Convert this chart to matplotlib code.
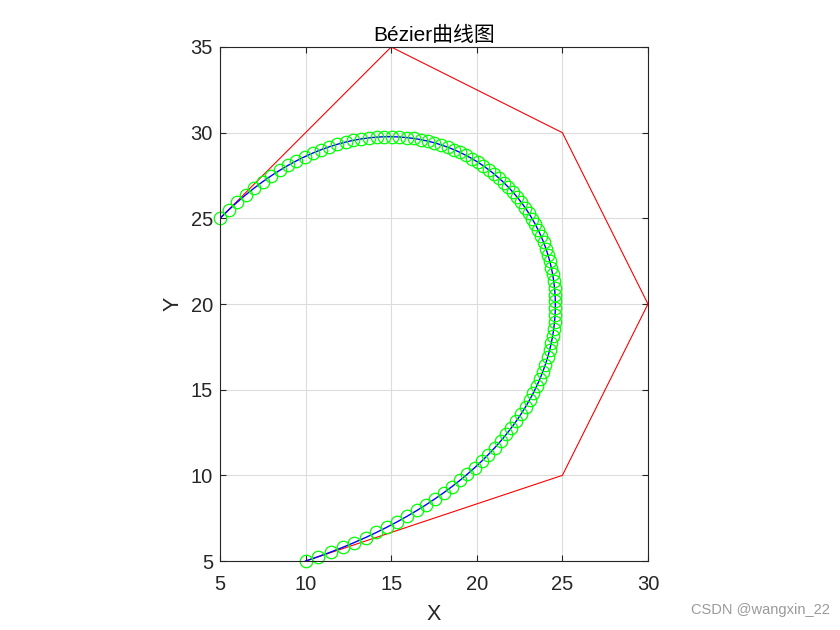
import numpy as np
import matplotlib.pyplot as plt
from math import comb

# control points of the Bezier curve (red polygon)
ctrl_x = [10, 25, 30, 25, 15, 5]
ctrl_y = [5, 10, 20, 30, 35, 25]
# parameter samples, t = 0:0.01:1
t_vals = np.linspace(0, 1, 101)

x_ticks = [5, 10, 15, 20, 25, 30]
y_ticks = [5, 10, 15, 20, 25, 30, 35]

# Bernstein form of the curve from its control points
n = len(ctrl_x) - 1
bx = np.zeros_like(t_vals)
by = np.zeros_like(t_vals)
for i in range(n + 1):
    b = comb(n, i) * t_vals**i * (1 - t_vals)**(n - i)
    bx += b * ctrl_x[i]
    by += b * ctrl_y[i]

plt.rcParams['font.family'] = ['Liberation Sans', 'Noto Sans CJK SC', 'DejaVu Sans']

fig = plt.figure(figsize=(8.4, 6.3), dpi=100)
ax = fig.add_axes([0.2619, 0.1095, 0.5095, 0.8159])

ax.plot(ctrl_x, ctrl_y, color='red', lw=0.8)
ax.plot(bx, by, color='blue', lw=1.0)
ax.plot(bx, by, 'o', mfc='none', mec='#00ff00', ms=9, mew=0.9, clip_on=False)

ax.set_xlim(5, 30)
ax.set_ylim(5, 35)
ax.set_xticks(x_ticks)
ax.set_yticks(y_ticks)
ax.grid(True, color='#dcdcdc', lw=0.8)
ax.set_axisbelow(True)
ax.tick_params(direction='in', top=True, right=True, length=4, labelsize=14.5,
               color='#262626', labelcolor='#262626', pad=5)
ax.tick_params(axis='x', pad=10)
for s in ax.spines.values():
    s.set_color('#262626')
    s.set_linewidth(0.8)

ax.set_xlabel('X', fontsize=15.5, color='#262626', labelpad=7)
ax.set_ylabel('Y', fontsize=15.5, color='#262626', labelpad=5)
ax.set_title('Bézier曲线图', fontsize=15, color='black', pad=4)

fig.text(0.988, 0.02, 'CSDN @wangxin_22', ha='right', va='bottom',
         fontsize=10.5, color='#9a9a9a')

fig.savefig('out.png', dpi=100)
